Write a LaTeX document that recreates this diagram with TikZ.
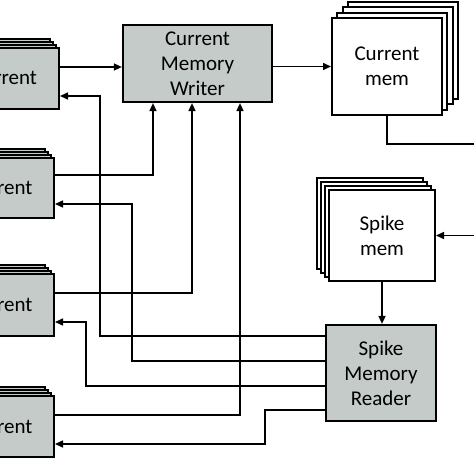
\documentclass[tikz,border=0pt]{standalone}
\usepackage{fontspec}
\setmainfont{Carlito}
\usetikzlibrary{arrows.meta}
\definecolor{procgray}{RGB}{196,203,200}

\begin{document}
\begin{tikzpicture}[x=1pt, y=-1pt, line cap=butt, line join=miter]
  \tikzset{
    proc/.style={draw=black, line width=2.2pt, fill=procgray, align=center, inner sep=0pt,
      font=\fontsize{21pt}{25pt}\selectfont},
    mem/.style={draw=black, line width=2pt, fill=white, align=center, inner sep=0pt,
      font=\fontsize{21pt}{25pt}\selectfont},
    cur/.style={proc, line width=2pt, minimum width=108pt, minimum height=61pt},
    wire/.style={line width=1.5pt, draw=black},
    arr/.style={wire, -{Triangle[length=8pt, width=7pt]}}
  }

  \useasboundingbox (0,0) rectangle (474,474);
  \clip (0,0) rectangle (474,474);

  % Current Memory Writer
  \node[proc, minimum width=149pt, minimum height=77pt] (CMW) at (197.5,63.5) {Current\\Memory\\Writer};

  % Current mem (stack of 4)
  \foreach \k in {3,2,1}
    \node[mem, minimum width=110pt, minimum height=97pt] (cm\k) at (387+5.3*\k, 66.5-5.5*\k) {};
  \node[mem, minimum width=110pt, minimum height=97pt] (curmem) at (387,66.5) {Current\\mem};

  % Spike mem (stack of 4)
  \foreach \k in {3,2,1}
    \node[mem, minimum width=106pt, minimum height=91pt] (sm\k) at (382-4*\k, 235.5-4*\k) {};
  \node[mem, minimum width=106pt, minimum height=91pt] (spikemem) at (382,235.5) {Spike\\mem};

  % Spike Memory Reader
  \node[proc, minimum width=110pt, minimum height=96pt] (SMR) at (381,373) {Spike\\Memory\\Reader};

  % Current stacks on the left
  \foreach \k in {3,2,1}
    \node[cur] (sa\k) at (4.5-3*\k, 78-3*\k) {};
  \node[cur, minimum width=109pt] (s1) at (4.5,78) {Current};
  \foreach \k in {3,2,1}
    \node[cur, minimum height=60pt] (sb\k) at (-3*\k, 188-3*\k) {};
  \node[cur, minimum height=60pt] (s2) at (0,188) {Current};
  \foreach \k in {3,2,1}
    \node[cur, minimum height=62pt] (sc\k) at (-3*\k, 305-3*\k) {};
  \node[cur, minimum height=62pt] (s3) at (0,305) {Current};
  \foreach \k in {3,2,1}
    \node[cur] (sd\k) at (-3*\k, 426.5-3*\k) {};
  \node[cur] (s4) at (0,426.5) {Current};

  % free ends on the right edge
  \coordinate (cmout) at (474,144);
  \coordinate (smin) at (474,235.5);

  % writer <-> memories
  \draw[arr] (CMW.east |- curmem.west) -- (curmem.west);
  \draw[wire] (curmem.south) |- (cmout);
  \draw[arr] (smin) -- (spikemem.east);
  \draw[arr] (spikemem.south) -- (spikemem.south |- SMR.north);

  % currents into the writer
  \draw[arr] ([yshift=11pt]s1.east) coordinate (s1o) -- (s1o -| CMW.west);
  \draw[arr] ([yshift=13pt]s2.east) -| ([xshift=-44.5pt]CMW.south);
  \draw[arr] ([yshift=12pt]s3.east) -| ([xshift=-5.5pt]CMW.south);
  \draw[arr] ([yshift=11.5pt]s4.east) -| ([xshift=42.5pt]CMW.south);

  % reader back to the currents
  \draw[arr] ([yshift=37pt]SMR.west) -- ++(-225,0) |- ([yshift=-18pt]s1.east);
  \draw[arr] ([yshift=12pt]SMR.west) -- ++(-193,0) |- ([yshift=-16pt]s2.east);
  \draw[arr] ([yshift=-13pt]SMR.west) -- ++(-239,0) |- ([yshift=-17pt]s3.east);
  \draw[arr] ([yshift=-37pt]SMR.west) -- ++(-60,0) |- ([yshift=-17.5pt]s4.east);

\end{tikzpicture}
\end{document}
